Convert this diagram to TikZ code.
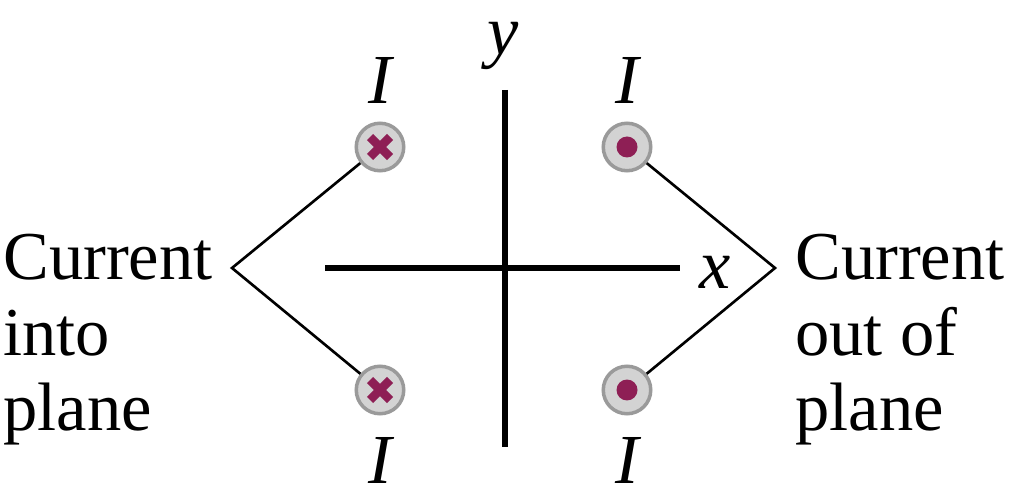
\documentclass[tikz,border=0pt]{standalone}
\usepackage{fontspec}
\setmainfont{Liberation Serif}
\definecolor{mag}{HTML}{8E1F55}
\definecolor{cfill}{HTML}{D3D3D3}
\definecolor{cedge}{HTML}{9A9A9A}
\begin{document}
\begin{tikzpicture}[x=0.02cm,y=-0.02cm,
  wire/.style={circle,minimum size=0.95cm,inner sep=0pt,fill=cfill,draw=cedge,line width=2pt},
  lbl/.style={font=\fontsize{40}{40}\selectfont\itshape},
  txt/.style={font=\fontsize{39}{43}\selectfont,align=left,anchor=west,inner sep=0pt},
  ln/.style={line width=1.5pt}]
\useasboundingbox (0,0) rectangle (1024,499);
\draw[line width=3pt] (505,90) coordinate (yt) -- (505,447) coordinate (yb);
\draw[line width=3pt] (325,268) coordinate (xl) -- (680,268) coordinate (xr);
\node[lbl] (ylab) at (503,46) {y};
\node[lbl] (xlab) at (715,272) {x};
\node[wire] (a) at (380,147) {};
\node[wire] (b) at (380,390) {};
\node[wire] (c) at (627,147) {};
\node[wire] (d) at (627,390) {};
\foreach \n in {a,b}{\draw[mag,line width=5pt] (\n.center)+(-10,-10) -- +(10,10) (\n.center)+(-10,10) -- +(10,-10);}
\foreach \n in {c,d}{\fill[mag] (\n.center) circle (0.21cm);}
\node[lbl] (ia) at (380,80) {I};
\node[lbl] (ib) at (380,460) {I};
\node[lbl] (ic) at (627,80) {I};
\node[lbl] (id) at (627,460) {I};
\coordinate (pl) at (232,268);
\coordinate (pr) at (775,268);
\draw[ln] (a) -- (pl) -- (b);
\draw[ln] (c) -- (pr) -- (d);
\node[txt] (lt) at (3,340) {Current\\into\\plane};
\node[txt] (rt) at (795,340) {Current\\out of\\plane};
\end{tikzpicture}
\end{document}
